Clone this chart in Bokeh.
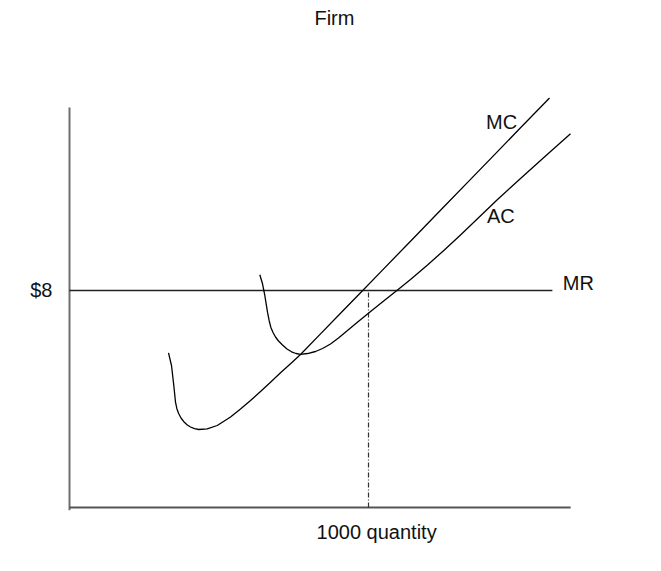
from bokeh.plotting import figure
from bokeh.models import Range1d
from bokeh.embed import file_html
from bokeh.resources import INLINE
from bokeh.core.properties import value

# ---- data (quantity, price) ----
mc_q = [331.1, 341.1, 348.8, 354.5, 358.9, 364.6, 372.9, 382.3, 393.0, 404.7, 418.1, 432.4, 460.5,
        494.0, 515.1, 538.5, 571.9, 605.4, 638.8, 672.3, 705.7, 739.2, 772.6, 839.5, 906.4, 973.3,
        1040.2, 1140.5, 1240.8, 1341.2, 1430.5, 1508.4, 1605.4]
mc_p = [5.703, 5.235, 4.498, 3.882, 3.650, 3.473, 3.299, 3.163, 3.049, 2.968, 2.905, 2.876, 2.901,
        3.023, 3.171, 3.336, 3.631, 3.945, 4.276, 4.616, 4.966, 5.301, 5.640, 6.400, 7.159, 7.919,
        8.678, 9.817, 10.957, 12.096, 13.110, 13.998, 15.097]

ac_q = [636.5, 645.5, 653.2, 662.2, 667.6, 673.2, 680.6, 689.0, 699.0, 712.4, 727.4, 742.5, 757.5,
        772.6, 796.0, 822.8, 846.2, 872.9, 899.6, 929.7, 959.8, 996.6, 1040.2, 1097.0, 1140.5,
        1197.4, 1250.9, 1307.7, 1367.9, 1431.5, 1508.4, 1592.0, 1675.6]
ac_p = [8.579, 8.247, 7.816, 7.200, 6.894, 6.647, 6.452, 6.286, 6.138, 5.991, 5.843, 5.740, 5.677,
        5.648, 5.677, 5.751, 5.862, 6.028, 6.249, 6.525, 6.802, 7.134, 7.521, 8.018, 8.405,
        8.940, 9.467, 10.046, 10.680, 11.355, 12.129, 12.958, 13.777]

mr_price = 8.0
mr_q_end = 1615
q_star = 1000
y_axis_top = 14.75
x_axis_end = 1676

title_text = "Firm"
price_label = "$8"
qty_label = "1000 quantity"
curve_labels = ["MC", "AC", "MR"]
curve_label_q = [1393, 1396, 1650]
curve_label_p = [14.23, 10.73, 8.29]

FONT = value("Liberation Sans")
FS = value("20px")

p = figure(width=645, height=555, output_backend="svg", toolbar_location=None,
           x_axis_location=None, y_axis_location=None,
           x_range=Range1d(-230.8, 1926.4), y_range=Range1d(-1.7696, 18.691),
           min_border=0, background_fill_color="white", border_fill_color="white")
p.outline_line_color = None
p.grid.visible = False

# axes
p.segment(x0=[0], y0=[-0.1], x1=[0], y1=[y_axis_top], line_color="#6e6e6e", line_width=2)
p.segment(x0=[0], y0=[0], x1=[x_axis_end], y1=[0], line_color="#555555", line_width=2)

# MR line
p.segment(x0=[0], y0=[mr_price], x1=[mr_q_end], y1=[mr_price], line_color="#222222", line_width=1.6)

# dashed vertical at q*
p.segment(x0=[q_star], y0=[0], x1=[q_star], y1=[mr_price], line_color="#333333",
          line_width=1.2, line_dash="5 2 1 2")

# curves
p.line(mc_q, mc_p, line_color="black", line_width=1.3, line_join="round")
p.line(ac_q, ac_p, line_color="black", line_width=1.3, line_join="round")

# texts
p.text(x=[886], y=[18.06], text=[title_text], text_font=FONT, text_font_size=FS,
       text_align="center", text_baseline="middle", text_color="#111111")
p.text(x=[-57], y=[mr_price], text=[price_label], text_font=FONT, text_font_size=FS,
       text_align="right", text_baseline="middle", text_color="#111111")
p.text(x=[1027], y=[-0.92], text=[qty_label], text_font=FONT, text_font_size=FS,
       text_align="center", text_baseline="middle", text_color="#111111")
p.text(x=curve_label_q, y=curve_label_p, text=curve_labels, text_font=FONT, text_font_size=FS,
       text_align="left", text_baseline="middle", text_color="#111111")

open("out.html", "w").write(file_html(p, INLINE))
